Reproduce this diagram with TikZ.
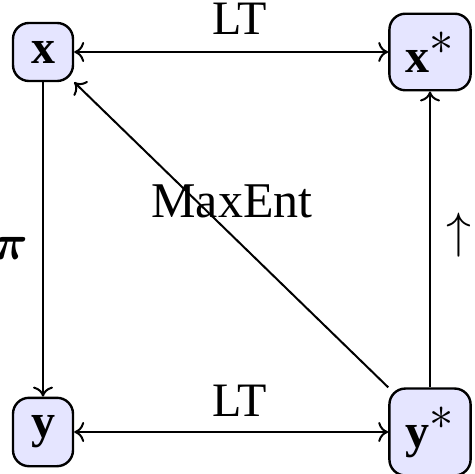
\documentclass[tikz,border=0pt]{standalone}
\usepackage{fontspec}
\setmainfont{Liberation Serif}
\usepackage{bm}
\usetikzlibrary{arrows.meta}
\newcommand{\bigast}{^{\scalebox{1.4}{$\scriptstyle\ast$}}}
\begin{document}
\begin{tikzpicture}[x=0.5pt,y=-0.5pt,
    var/.style={draw,line width=1.2pt,fill=blue!10,rounded corners=8pt,minimum size=29pt,inner sep=9pt,font=\fontsize{24}{28}\selectfont},
    lab/.style={font=\fontsize{24}{28}\selectfont,inner sep=0pt},
    >={To[length=5pt,width=10pt]},line width=1pt]
      \useasboundingbox(0,0)rectangle(474,474);
      \node[var](x)at(43,52){\textbf{x}};
      \node[var,inner xsep=8pt](xs)at(430,52){\textbf{x}$\bigast$};
      \node[var](y)at(43,432){\textbf{y}};
      \node[var,inner xsep=8pt](ys)at(430,432){\textbf{y}$\bigast$};
      \draw[<->](x.east)--(xs.west);
      \draw[<->](y.east)--(ys.west);
      \draw[->](x.south)--(y.north);
      \draw[->](ys.north)--(xs.south);
      \draw[->](ys.north west)--(x.south east);
      \node[lab](lt1)at(240,19){LT};
      \node[lab](lt2)at(240,401){LT};
      \node[lab,font=\fontsize{25}{30}\selectfont](me)at(232,201){MaxEnt};
      \node[lab,font=\fontsize{32}{36}\selectfont](pi)at(10,248){$\bm{\pi}$};
      \node[lab](up)at(459,235){$\uparrow$};
    \end{tikzpicture}
\end{document}
